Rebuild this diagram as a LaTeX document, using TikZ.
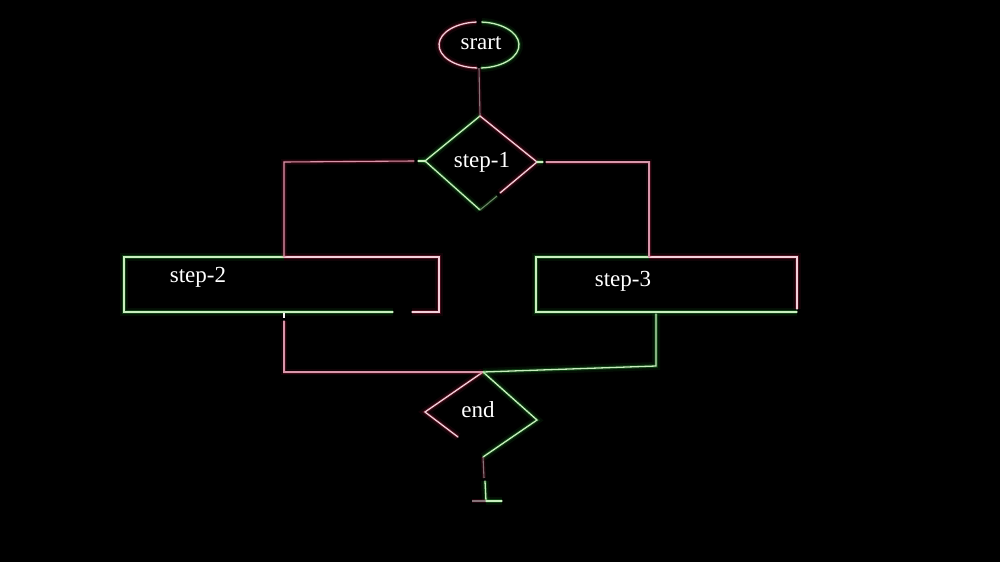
\documentclass[tikz,border=0pt]{standalone}
\usepackage{fontspec}
\setmainfont{Liberation Serif}
\usetikzlibrary{shapes.geometric}
\definecolor{gcore}{RGB}{200,238,190}
\definecolor{gglow}{RGB}{50,200,60}
\definecolor{pcore}{RGB}{242,208,218}
\definecolor{pglow}{RGB}{225,40,85}
\definecolor{mcore}{RGB}{215,150,170}
\definecolor{wcore}{RGB}{250,245,245}
\tikzset{
  gl/.style={draw=gcore, line width=1.3pt, line cap=round, line join=miter,
    preaction={draw=gglow, line width=8pt, opacity=0.08},
    preaction={draw=gglow, line width=3.5pt, opacity=0.25}},
  pl/.style={draw=pcore, line width=1.3pt, line cap=round, line join=miter,
    preaction={draw=pglow, line width=8pt, opacity=0.08},
    preaction={draw=pglow, line width=3.5pt, opacity=0.25}},
  ml/.style={draw=mcore, line width=1.1pt, line cap=round, line join=miter,
    preaction={draw=pglow, line width=6pt, opacity=0.08},
    preaction={draw=pglow, line width=3pt, opacity=0.22}},
  fpl/.style={draw=pcore!55!black, line width=1.1pt,
    preaction={draw=pglow, line width=4pt, opacity=0.15}},
  fgl/.style={draw=gcore!55!black, line width=1.1pt,
    preaction={draw=gglow, line width=4pt, opacity=0.15}},
  lbl/.style={text=white, font=\fontsize{23}{27}\selectfont, inner sep=0pt}
}
\begin{document}
\begin{tikzpicture}[x=1pt,y=-1pt]
\useasboundingbox (0,0) rectangle (1000,562);
\fill[black] (0,0) rectangle (1000,562);

% ---- start ellipse ----
\node[ellipse, minimum width=80pt, minimum height=46pt, inner sep=0pt] (s) at (479,45) {};
\node[lbl] (stxt) at (481,43) {srart};
\draw[pl] ([shift={(93:40 and 23)}]s.center) arc[start angle=93, end angle=266, x radius=40, y radius=23];
\draw[gl] ([shift={(87:40 and 23)}]s.center) arc[start angle=87, end angle=-86, x radius=40, y radius=23];

% ---- step-1 diamond ----
\coordinate (d1t) at (480,116);
\coordinate (d1l) at (425,161);
\coordinate (d1r) at (537,162);
\coordinate (d1b) at (480,210);
\coordinate (d1g1) at (500,193);
\coordinate (d1g2) at (497,196);
\node[lbl] (d1txt) at (482,162) {step-1};
\draw[fpl] (s.south) -- (d1t);
\draw[gl] (d1b) -- (d1l) -- (d1t);
\draw[pl] (d1t) -- (d1r) -- (d1g1);
\draw[fgl] (d1g2) -- (d1b);

% ---- step-2 box ----
\coordinate (b2tl) at (124,257);
\coordinate (b2tr) at (439,257);
\coordinate (b2br) at (439,312);
\coordinate (b2bl) at (124,312);
\coordinate (b2tm) at (284,257);
\coordinate (b2g1) at (393,312);
\coordinate (b2g2) at (412,312);
\node[lbl] (b2txt) at (198,277) {step-2};
\draw[gl] (b2tm) -- (b2tl) -- (b2bl) -- (b2g1);
\draw[pl] (b2tm) -- (b2tr) -- (b2br) -- (b2g2);

% ---- step-3 box ----
\coordinate (b3tl) at (536,257);
\coordinate (b3tr) at (797,257);
\coordinate (b3br) at (797,312);
\coordinate (b3bl) at (536,312);
\coordinate (b3tm) at (649,257);
\coordinate (b3rg) at (797,309);
\node[lbl] (b3txt) at (623,281) {step-3};
\draw[gl] (b3tm) -- (b3tl) -- (b3bl) -- (b3br);
\draw[pl] (b3tm) -- (b3tr) -- (b3rg);

% ---- branches from step-1 ----
\coordinate (lc1) at (418,161);
\coordinate (lc2) at (414,161);
\coordinate (lc3) at (284,162);
\draw[gl] (d1l) -- (lc1);
\draw[ml] (lc2) -- (lc3) -- (b2tm);
\coordinate (rc1) at (543,162);
\coordinate (rc2) at (546,162);
\coordinate (rc3) at (649,162);
\draw[gl] (d1r) -- (rc1);
\draw[ml] (rc2) -- (rc3) -- (b3tm);

% ---- end diamond ----
\coordinate (det) at (483,372);
\coordinate (del) at (425,412);
\coordinate (der) at (537,420);
\coordinate (deb) at (483,457);
\coordinate (deg) at (458,437);
\node[lbl] (detxt) at (478,410) {end};
\draw[pl] (deg) -- (del) -- (det);
\draw[gl] (det) -- (der) -- (deb);

% ---- joins into end ----
\coordinate (j2a) at (284,313);
\coordinate (j2b) at (284,318);
\coordinate (j2c) at (284,321);
\coordinate (j2d) at (284,372);
\draw[draw=wcore, line width=1.3pt] (j2a) -- (j2b);
\draw[ml] (j2c) -- (j2d) -- (det);
\coordinate (j3a) at (656,314);
\coordinate (j3b) at (656,366);
\draw[gl] (j3a) -- (j3b) -- (det);

% ---- exit stem ----
\coordinate (e1) at (484,478);
\coordinate (e2) at (485,481);
\coordinate (e3) at (486,501);
\coordinate (e4) at (472,501);
\coordinate (e5) at (502,501);
\draw[fpl] (deb) -- (e1);
\draw[gl] (e2) -- (e3);
\draw[fpl] (e4) -- (e3);
\draw[gl] (e3) -- (e5);
\end{tikzpicture}
\end{document}
